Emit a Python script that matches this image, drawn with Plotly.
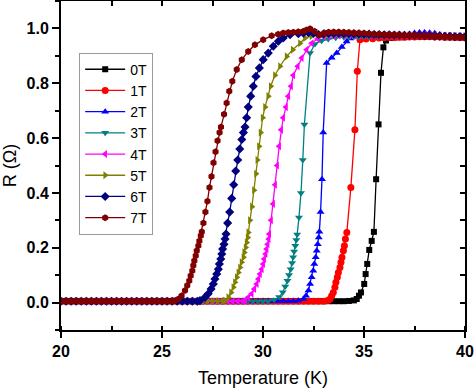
import plotly.graph_objects as go

# ---------------- data ----------------
FIELDS = ["0T", "1T", "2T", "3T", "4T", "5T", "6T", "7T"]
COLORS = ["#000000", "#FF0000", "#0000FF", "#008080", "#FF00FF", "#808000", "#000080", "#800000"]
SYMBOLS = ["square", "circle", "triangle-up", "triangle-down", "triangle-left",
           "triangle-right", "diamond", "hexagon"]
SIZES = [6, 7, 7, 7, 7, 7, 7, 7]

T_0T = [20.0, 20.25, 20.5, 20.75, 21.0, 21.25, 21.5, 21.75, 22.0, 22.25,
        22.5, 22.75, 23.0, 23.25, 23.5, 23.75, 24.0, 24.25, 24.5, 24.75,
        25.0, 25.25, 25.5, 25.75, 26.0, 26.25, 26.5, 26.75, 27.0, 27.25,
        27.5, 27.75, 28.0, 28.25, 28.5, 28.75, 29.0, 29.25, 29.5, 29.75,
        30.0, 30.25, 30.5, 30.75, 31.0, 31.25, 31.5, 31.75, 32.0, 32.25,
        32.5, 32.75, 33.0, 33.25, 33.5, 33.75, 34.0, 34.25, 34.5,
        34.64, 34.75, 34.85, 35.01, 35.08, 35.16, 35.26, 35.38, 35.49, 35.6,
        35.72, 35.84, 35.96, 36.09, 36.3,
        36.5, 36.75, 37.0, 37.25, 37.5, 37.75, 38.0, 38.25, 38.5, 38.75,
        39.0, 39.25, 39.5, 39.75, 40.0]
R_0T = [0.005, 0.005, 0.005, 0.005, 0.005, 0.005, 0.005, 0.005, 0.005, 0.005,
        0.005, 0.005, 0.005, 0.005, 0.005, 0.005, 0.005, 0.005, 0.005, 0.005,
        0.005, 0.005, 0.005, 0.005, 0.005, 0.005, 0.005, 0.005, 0.005, 0.005,
        0.005, 0.005, 0.005, 0.005, 0.005, 0.005, 0.005, 0.005, 0.005, 0.005,
        0.005, 0.005, 0.005, 0.005, 0.005, 0.005, 0.005, 0.005, 0.005, 0.005,
        0.005, 0.005, 0.005, 0.005, 0.005, 0.005, 0.005, 0.006, 0.008,
        0.013, 0.025, 0.037, 0.068, 0.104, 0.141, 0.192, 0.225, 0.258, 0.45,
        0.65, 0.838, 0.931, 0.956, 0.965,
        0.967, 0.968, 0.968, 0.969, 0.969, 0.97, 0.97, 0.97, 0.969, 0.969,
        0.968, 0.968, 0.968, 0.967, 0.967]

T_1T = [20.0, 20.25, 20.5, 20.75, 21.0, 21.25, 21.5, 21.75, 22.0, 22.25,
        22.5, 22.75, 23.0, 23.25, 23.5, 23.75, 24.0, 24.25, 24.5, 24.75,
        25.0, 25.25, 25.5, 25.75, 26.0, 26.25, 26.5, 26.75, 27.0, 27.25,
        27.5, 27.75, 28.0, 28.25, 28.5, 28.75, 29.0, 29.25, 29.5, 29.75,
        30.0, 30.25, 30.5, 30.75, 31.0, 31.25, 31.5, 31.75, 32.0, 32.25,
        32.5, 32.75,
        33.0, 33.2, 33.32, 33.4, 33.48, 33.56, 33.61, 33.68, 33.73, 33.81,
        33.86, 33.91, 33.98, 34.03, 34.08, 34.15, 34.35, 34.55, 34.67, 34.8,
        35.1, 35.43, 35.75,
        36.0, 36.25, 36.5, 36.75, 37.0, 37.25, 37.5, 37.75, 38.0, 38.25,
        38.5, 38.75, 39.0, 39.25, 39.5, 39.75, 40.0]
R_1T = [0.005, 0.005, 0.005, 0.005, 0.005, 0.005, 0.005, 0.005, 0.005, 0.005,
        0.005, 0.005, 0.005, 0.005, 0.005, 0.005, 0.005, 0.005, 0.005, 0.005,
        0.005, 0.005, 0.005, 0.005, 0.005, 0.005, 0.005, 0.005, 0.005, 0.005,
        0.005, 0.005, 0.005, 0.005, 0.005, 0.005, 0.005, 0.005, 0.005, 0.005,
        0.005, 0.005, 0.005, 0.005, 0.005, 0.005, 0.005, 0.005, 0.005, 0.005,
        0.005, 0.005,
        0.005, 0.008, 0.013, 0.025, 0.037, 0.056, 0.074, 0.092, 0.11, 0.128,
        0.147, 0.165, 0.189, 0.207, 0.232, 0.256, 0.42, 0.63, 0.844, 0.959,
        0.961, 0.962, 0.965,
        0.966, 0.967, 0.967, 0.968, 0.968, 0.969, 0.969, 0.97, 0.97, 0.97,
        0.969, 0.969, 0.968, 0.968, 0.967, 0.967, 0.966]

T_2T = [20.0, 20.25, 20.5, 20.75, 21.0, 21.25, 21.5, 21.75, 22.0, 22.25,
        22.5, 22.75, 23.0, 23.25, 23.5, 23.75, 24.0, 24.25, 24.5, 24.75,
        25.0, 25.25, 25.5, 25.75, 26.0, 26.25, 26.5, 26.75, 27.0, 27.25,
        27.5, 27.75, 28.0, 28.25, 28.5, 28.75, 29.0, 29.25, 29.5, 29.75,
        30.0, 30.25, 30.5, 30.75, 31.0, 31.25, 31.5,
        31.75, 32.0, 32.13, 32.25, 32.33, 32.41, 32.49, 32.54, 32.61, 32.66,
        32.71, 32.76, 32.79, 32.85, 32.92, 32.98, 33.15, 33.4, 33.65, 33.9,
        34.14, 34.3, 34.5,
        34.75, 35.0, 35.25, 35.5, 35.75, 36.0, 36.25, 36.5, 36.75, 37.0,
        37.25, 37.5, 37.75, 38.0, 38.25, 38.5, 38.75, 39.0, 39.25, 39.5,
        39.75, 40.0]
R_2T = [0.005, 0.005, 0.005, 0.005, 0.005, 0.005, 0.005, 0.005, 0.005, 0.005,
        0.005, 0.005, 0.005, 0.005, 0.005, 0.005, 0.005, 0.005, 0.005, 0.005,
        0.005, 0.005, 0.005, 0.005, 0.005, 0.005, 0.005, 0.005, 0.005, 0.005,
        0.005, 0.005, 0.005, 0.005, 0.005, 0.005, 0.005, 0.005, 0.005, 0.005,
        0.005, 0.005, 0.005, 0.005, 0.005, 0.005, 0.005,
        0.007, 0.013, 0.025, 0.044, 0.068, 0.092, 0.116, 0.141, 0.165, 0.189,
        0.213, 0.237, 0.258, 0.33, 0.45, 0.62, 0.874, 0.893, 0.91, 0.932,
        0.952, 0.963, 0.97,
        0.971, 0.972, 0.972, 0.972, 0.973, 0.973, 0.973, 0.974, 0.975, 0.977,
        0.98, 0.983, 0.985, 0.985, 0.984, 0.982, 0.978, 0.975, 0.973, 0.972,
        0.971, 0.97]

T_3T = [20.0, 20.25, 20.5, 20.75, 21.0, 21.25, 21.5, 21.75, 22.0, 22.25,
        22.5, 22.75, 23.0, 23.25, 23.5, 23.75, 24.0, 24.25, 24.5, 24.75,
        25.0, 25.25, 25.5, 25.75, 26.0, 26.25, 26.5, 26.75, 27.0, 27.25,
        27.5, 27.75, 28.0, 28.25, 28.5, 28.75, 29.0, 29.25, 29.5, 29.75,
        30.0, 30.25,
        30.55, 30.8, 30.98, 31.1, 31.21, 31.29, 31.37, 31.44, 31.49, 31.54,
        31.6, 31.65, 31.69, 31.78, 31.88, 31.97, 32.05, 32.33, 32.57, 32.9,
        33.23, 33.6,
        34.0, 34.25, 34.5, 34.75, 35.0, 35.25, 35.5, 35.75, 36.0, 36.25,
        36.5, 36.75, 37.0, 37.25, 37.5, 37.75, 38.0, 38.25, 38.5, 38.75,
        39.0, 39.25, 39.5, 39.75, 40.0]
R_3T = [0.005, 0.005, 0.005, 0.005, 0.005, 0.005, 0.005, 0.005, 0.005, 0.005,
        0.005, 0.005, 0.005, 0.005, 0.005, 0.005, 0.005, 0.005, 0.005, 0.005,
        0.005, 0.005, 0.005, 0.005, 0.005, 0.005, 0.005, 0.005, 0.005, 0.005,
        0.005, 0.005, 0.005, 0.005, 0.005, 0.005, 0.005, 0.005, 0.005, 0.005,
        0.005, 0.005,
        0.01, 0.02, 0.038, 0.059, 0.08, 0.101, 0.122, 0.144, 0.165, 0.186,
        0.207, 0.228, 0.248, 0.31, 0.4, 0.52, 0.65, 0.91, 0.943, 0.955,
        0.961, 0.966,
        0.968, 0.969, 0.969, 0.97, 0.97, 0.97, 0.971, 0.971, 0.971, 0.972,
        0.972, 0.972, 0.972, 0.972, 0.972, 0.971, 0.971, 0.971, 0.97, 0.97,
        0.97, 0.969, 0.969, 0.968, 0.968]

T_4T = [20.0, 20.25, 20.5, 20.75, 21.0, 21.25, 21.5, 21.75, 22.0, 22.25,
        22.5, 22.75, 23.0, 23.25, 23.5, 23.75, 24.0, 24.25, 24.5, 24.75,
        25.0, 25.25, 25.5, 25.75, 26.0, 26.25, 26.5, 26.75, 27.0, 27.25,
        27.5, 27.75, 28.0, 28.25, 28.5, 28.75, 29.0,
        29.11, 29.27, 29.44, 29.57, 29.69, 29.77, 29.85, 29.94, 30.01, 30.06,
        30.13, 30.18, 30.23, 30.28, 30.31, 30.4, 30.5, 30.6, 30.7, 30.8,
        30.9, 31.0, 31.14, 31.25, 31.39, 31.5, 31.72, 31.92, 32.16, 32.41,
        32.7, 33.0,
        33.25, 33.5, 33.75, 34.0, 34.25, 34.5, 34.75, 35.0, 35.25, 35.5,
        35.75, 36.0, 36.25, 36.5, 36.75, 37.0, 37.25, 37.5, 37.75, 38.0,
        38.25, 38.5, 38.75, 39.0, 39.25, 39.5, 39.75, 40.0]
R_4T = [0.005, 0.005, 0.005, 0.005, 0.005, 0.005, 0.005, 0.005, 0.005, 0.005,
        0.005, 0.005, 0.005, 0.005, 0.005, 0.005, 0.005, 0.005, 0.005, 0.005,
        0.005, 0.005, 0.005, 0.005, 0.005, 0.005, 0.005, 0.005, 0.005, 0.005,
        0.005, 0.005, 0.005, 0.005, 0.005, 0.005, 0.005,
        0.007, 0.019, 0.032, 0.05, 0.068, 0.086, 0.104, 0.122, 0.141, 0.159,
        0.177, 0.195, 0.213, 0.232, 0.25, 0.3, 0.36, 0.43, 0.5, 0.57,
        0.63, 0.674, 0.713, 0.753, 0.789, 0.829, 0.862, 0.892, 0.922, 0.946,
        0.962, 0.97,
        0.972, 0.973, 0.973, 0.974, 0.974, 0.974, 0.975, 0.975, 0.975, 0.975,
        0.975, 0.975, 0.975, 0.975, 0.975, 0.975, 0.975, 0.976, 0.976, 0.977,
        0.977, 0.976, 0.975, 0.974, 0.973, 0.972, 0.971, 0.97]

T_5T = [20.0, 20.25, 20.5, 20.75, 21.0, 21.25, 21.5, 21.75, 22.0, 22.25,
        22.5, 22.75, 23.0, 23.25, 23.5, 23.75, 24.0, 24.25, 24.5, 24.75,
        25.0, 25.25, 25.5, 25.75, 26.0, 26.25, 26.5, 26.75, 27.0, 27.25,
        27.5, 27.75, 28.0,
        28.12, 28.28, 28.42, 28.53, 28.61, 28.7, 28.78, 28.86, 28.94, 29.03,
        29.07, 29.14, 29.19, 29.24, 29.27, 29.35, 29.45, 29.55, 29.65, 29.72,
        29.8, 29.88, 29.98, 30.1, 30.26, 30.38, 30.59, 30.84, 31.17, 31.47,
        31.83, 32.08, 32.4, 32.75,
        33.0, 33.25, 33.5, 33.75, 34.0, 34.25, 34.5, 34.75, 35.0, 35.25,
        35.5, 35.75, 36.0, 36.25, 36.5, 36.75, 37.0, 37.25, 37.5, 37.75,
        38.0, 38.25, 38.5, 38.75, 39.0, 39.25, 39.5, 39.75, 40.0]
R_5T = [0.005, 0.005, 0.005, 0.005, 0.005, 0.005, 0.005, 0.005, 0.005, 0.005,
        0.005, 0.005, 0.005, 0.005, 0.005, 0.005, 0.005, 0.005, 0.005, 0.005,
        0.005, 0.005, 0.005, 0.005, 0.005, 0.005, 0.005, 0.005, 0.005, 0.005,
        0.005, 0.005, 0.005,
        0.007, 0.019, 0.037, 0.056, 0.074, 0.092, 0.11, 0.128, 0.147, 0.165,
        0.183, 0.201, 0.219, 0.237, 0.256, 0.3, 0.35, 0.41, 0.47, 0.52,
        0.57, 0.62, 0.674, 0.713, 0.753, 0.789, 0.829, 0.862, 0.898, 0.922,
        0.946, 0.965, 0.972, 0.975,
        0.976, 0.977, 0.977, 0.977, 0.977, 0.977, 0.977, 0.976, 0.976, 0.976,
        0.976, 0.976, 0.975, 0.975, 0.975, 0.975, 0.975, 0.974, 0.974, 0.974,
        0.974, 0.973, 0.973, 0.973, 0.972, 0.972, 0.972, 0.971, 0.971]

T_6T = [20.0, 20.25, 20.5, 20.75, 21.0, 21.25, 21.5, 21.75, 22.0, 22.25,
        22.5, 22.75, 23.0, 23.25, 23.5, 23.75, 24.0, 24.25, 24.5, 24.75,
        25.0, 25.25, 25.5, 25.75, 26.0, 26.25, 26.5, 26.75,
        26.88, 27.13, 27.29, 27.43, 27.54, 27.62, 27.71, 27.79, 27.84, 27.91,
        27.96, 28.0, 28.07, 28.12, 28.17, 28.25, 28.35, 28.45, 28.55, 28.65,
        28.75, 28.85, 28.95, 29.03, 29.11, 29.19, 29.27, 29.39, 29.52, 29.65,
        29.82, 30.01, 30.26, 30.51, 30.76, 31.0, 31.34, 31.75,
        32.0, 32.25, 32.5, 32.75, 33.0, 33.25, 33.5, 33.75, 34.0, 34.25,
        34.5, 34.75, 35.0, 35.25, 35.5, 35.75, 36.0, 36.25, 36.5, 36.75,
        37.0, 37.25, 37.5, 37.75, 38.0, 38.25, 38.5, 38.75, 39.0, 39.25,
        39.5, 39.75, 40.0]
R_6T = [0.005, 0.005, 0.005, 0.005, 0.005, 0.005, 0.005, 0.005, 0.005, 0.005,
        0.005, 0.005, 0.005, 0.005, 0.005, 0.005, 0.005, 0.005, 0.005, 0.005,
        0.005, 0.005, 0.005, 0.005, 0.005, 0.005, 0.005, 0.005,
        0.007, 0.019, 0.032, 0.05, 0.068, 0.086, 0.104, 0.122, 0.141, 0.159,
        0.177, 0.195, 0.213, 0.232, 0.25, 0.29, 0.33, 0.38, 0.43, 0.48,
        0.52, 0.56, 0.595, 0.62, 0.64, 0.674, 0.713, 0.753, 0.789, 0.825,
        0.856, 0.886, 0.91, 0.935, 0.953, 0.965, 0.977, 0.981,
        0.983, 0.984, 0.982, 0.978, 0.98, 0.982, 0.982, 0.982, 0.981, 0.981,
        0.98, 0.98, 0.979, 0.979, 0.978, 0.978, 0.977, 0.977, 0.976, 0.976,
        0.975, 0.975, 0.974, 0.974, 0.973, 0.973, 0.972, 0.972, 0.971, 0.971,
        0.97, 0.97, 0.969]

T_7T = [20.0, 20.25, 20.5, 20.75, 21.0, 21.25, 21.5, 21.75, 22.0, 22.25,
        22.5, 22.75, 23.0, 23.25, 23.5, 23.75, 24.0, 24.25, 24.5, 24.75,
        25.0, 25.25, 25.5,
        25.65, 25.81, 25.97, 26.14, 26.25, 26.35, 26.42, 26.5, 26.55, 26.6,
        26.67, 26.72, 26.8, 26.85, 26.92, 26.97, 27.05, 27.15, 27.25, 27.35,
        27.45, 27.55, 27.65, 27.75, 27.85, 27.92, 28.07, 28.2, 28.33, 28.48,
        28.7, 28.95, 29.27, 29.6, 30.01, 30.43, 30.75, 31.0, 31.25, 31.5,
        31.75, 32.0, 32.15, 32.33, 32.55, 32.8, 33.05, 33.25, 33.5,
        33.75, 34.0, 34.25, 34.5, 34.75, 35.0, 35.25, 35.5, 35.75, 36.0,
        36.25, 36.5, 36.75, 37.0, 37.25, 37.5, 37.75, 38.0, 38.25, 38.5,
        38.75, 39.0, 39.25, 39.5, 39.75, 40.0]
R_7T = [0.005, 0.005, 0.005, 0.005, 0.005, 0.005, 0.005, 0.005, 0.005, 0.005,
        0.005, 0.005, 0.005, 0.005, 0.005, 0.005, 0.005, 0.005, 0.005, 0.005,
        0.005, 0.005, 0.005,
        0.008, 0.013, 0.025, 0.044, 0.062, 0.08, 0.098, 0.116, 0.135, 0.153,
        0.171, 0.189, 0.207, 0.225, 0.244, 0.258, 0.29, 0.33, 0.37, 0.42,
        0.46, 0.51, 0.55, 0.59, 0.62, 0.64, 0.687, 0.728, 0.771, 0.807,
        0.85, 0.886, 0.916, 0.94, 0.959, 0.973, 0.979, 0.983, 0.985, 0.986,
        0.988, 0.99, 0.994, 0.999, 0.99, 0.977, 0.983, 0.986, 0.987,
        0.987, 0.986, 0.985, 0.984, 0.983, 0.982, 0.981, 0.98, 0.979, 0.978,
        0.978, 0.977, 0.976, 0.975, 0.975, 0.974, 0.973, 0.973, 0.972, 0.971,
        0.971, 0.97, 0.969, 0.969, 0.968, 0.967]

TEMPS = [T_0T, T_1T, T_2T, T_3T, T_4T, T_5T, T_6T, T_7T]
RESIST = [R_0T, R_1T, R_2T, R_3T, R_4T, R_5T, R_6T, R_7T]

X_TICKS = [20, 25, 30, 35, 40]
Y_TICKS = [0.0, 0.2, 0.4, 0.6, 0.8, 1.0]

# ---------------- figure ----------------
FONT = "Liberation Sans, Arial, sans-serif"
fig = go.Figure()

for name, col, sym, sz, t, r in zip(FIELDS, COLORS, SYMBOLS, SIZES, TEMPS, RESIST):
    fig.add_trace(go.Scatter(
        x=t, y=r, name=name, mode="lines+markers",
        line=dict(color=col, width=1.3),
        marker=dict(symbol=sym, size=sz, color=col, line=dict(width=0)),
    ))

# empty trace to carry the mirrored top/right axes
fig.add_trace(go.Scatter(x=[], y=[], xaxis="x2", yaxis="y2",
                         showlegend=False, hoverinfo="skip"))

fig.update_layout(
    width=474, height=388,
    margin=dict(l=61, r=9, t=1, b=58),
    paper_bgcolor="white", plot_bgcolor="white",
    font=dict(family=FONT, color="black"),
    showlegend=True,
    legend=dict(
        x=0.045, y=0.843, xanchor="left", yanchor="top",
        bgcolor="white", bordercolor="#9A9A9A", borderwidth=1,
        font=dict(family=FONT, size=14, color="black"),
        itemwidth=40, tracegroupgap=0,
    ),
    xaxis=dict(
        range=[20, 40], tickmode="array", tickvals=X_TICKS, automargin=False,
        ticks="outside", ticklen=6, tickwidth=1.5, tickcolor="black",
        minor=dict(ticks="inside", tick0=20, dtick=2.5, ticklen=4,
                   tickwidth=1.5, tickcolor="black"),
        showline=True, linewidth=2, linecolor="black",
        showgrid=False, zeroline=False,
        tickfont=dict(family=FONT, size=16, color="black", weight="bold"),
        title=dict(text="Temperature (K)", standoff=14,
                   font=dict(family=FONT, size=18, color="black")),
    ),
    yaxis=dict(
        range=[-0.1, 1.1], tickmode="array", tickvals=Y_TICKS, automargin=False,
        tickformat=".1f",
        ticks="outside", ticklen=7, tickwidth=1.5, tickcolor="black",
        minor=dict(ticks="outside", tick0=0, dtick=0.1, ticklen=4,
                   tickwidth=1.5, tickcolor="black"),
        showline=True, linewidth=2, linecolor="black",
        showgrid=False, zeroline=False,
        tickfont=dict(family=FONT, size=16, color="black", weight="bold"),
        title=dict(text="R (Ω)", standoff=10,
                   font=dict(family=FONT, size=18, color="black")),
    ),
    xaxis2=dict(
        overlaying="x", side="top", anchor="y2", automargin=False,
        range=[20, 40], tick0=20, dtick=2.5,
        ticks="inside", ticklen=5, tickwidth=1.5, tickcolor="black",
        showticklabels=False, showline=True, linewidth=2, linecolor="black",
        showgrid=False, zeroline=False,
    ),
    yaxis2=dict(
        overlaying="y", side="right", anchor="x2", automargin=False,
        range=[-0.1, 1.1], tick0=0, dtick=0.1,
        ticks="inside", ticklen=5, tickwidth=1.5, tickcolor="black",
        showticklabels=False, showline=True, linewidth=2, linecolor="black",
        showgrid=False, zeroline=False,
    ),
)

# remove the browser's default 8px page margin so the figure sits at (0, 0)
fig.write_html("out.html",
               config={"displayModeBar": False},
               post_script="document.body.style.margin='0';document.body.style.padding='0';")
